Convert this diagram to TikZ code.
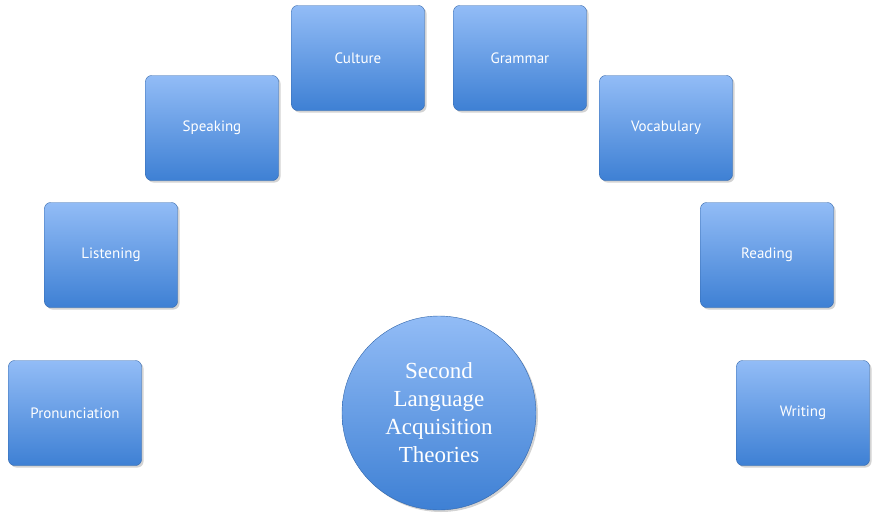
\documentclass[tikz,border=0pt]{standalone}
\usepackage{fontspec}
\setmainfont{PT Sans}
\newfontfamily\circfont{Liberation Serif}
\usetikzlibrary{calc,arrows.meta,shadows}
\definecolor{boxtop}{RGB}{146,188,246}
\definecolor{boxbot}{RGB}{62,128,212}
\definecolor{arr}{RGB}{180,202,238}
\tikzset{
  box/.style={rounded corners=6pt, minimum width=133pt, minimum height=105pt,
    top color=boxtop, bottom color=boxbot, draw=boxbot!80!black, line width=0.4pt,
    drop shadow={shadow xshift=2pt,shadow yshift=-2pt,opacity=0.35},
    text=white, font=\fontsize{15}{18}\selectfont, inner sep=2pt},
  hub/.style={circle, minimum size=194pt, top color=boxtop, bottom color=boxbot,
    draw=boxbot!80!black, drop shadow={shadow xshift=2pt,shadow yshift=-2pt,opacity=0.35},
    text=white, align=center, font=\circfont\fontsize{23}{28}\selectfont},
  bigarrow/.style={draw=none, line width=40pt, arr, opacity=0.9,
    -{Triangle[width=72pt,length=32pt]}}
}
\begin{document}
\begin{tikzpicture}[x=1pt,y=-1pt]
\useasboundingbox (0,0) rectangle (878,520);
\coordinate (c) at (439,413);
\node[hub] (hub) at (c) {Second\\Language\\Acquisition\\Theories};
\coordinate (p0) at (75,413);
\coordinate (p1) at (111,255);
\coordinate (p2) at (212,128);
\coordinate (p3) at (358,58);
\coordinate (p4) at (520,58);
\coordinate (p5) at (666,128);
\coordinate (p6) at (767,255);
\coordinate (p7) at (803,413);
\foreach \i in {0,...,7}{
  \draw[bigarrow] (p\i) -- ($(c)!110pt!(p\i)$);
}
\node[box] (pron) at (p0) {Pronunciation};
\node[box] (list) at (p1) {Listening};
\node[box] (speak) at (p2) {Speaking};
\node[box] (cult) at (p3) {Culture};
\node[box] (gram) at (p4) {Grammar};
\node[box] (voc) at (p5) {Vocabulary};
\node[box] (read) at (p6) {Reading};
\node[box] (writ) at (p7) {Writing};
\end{tikzpicture}
\end{document}
